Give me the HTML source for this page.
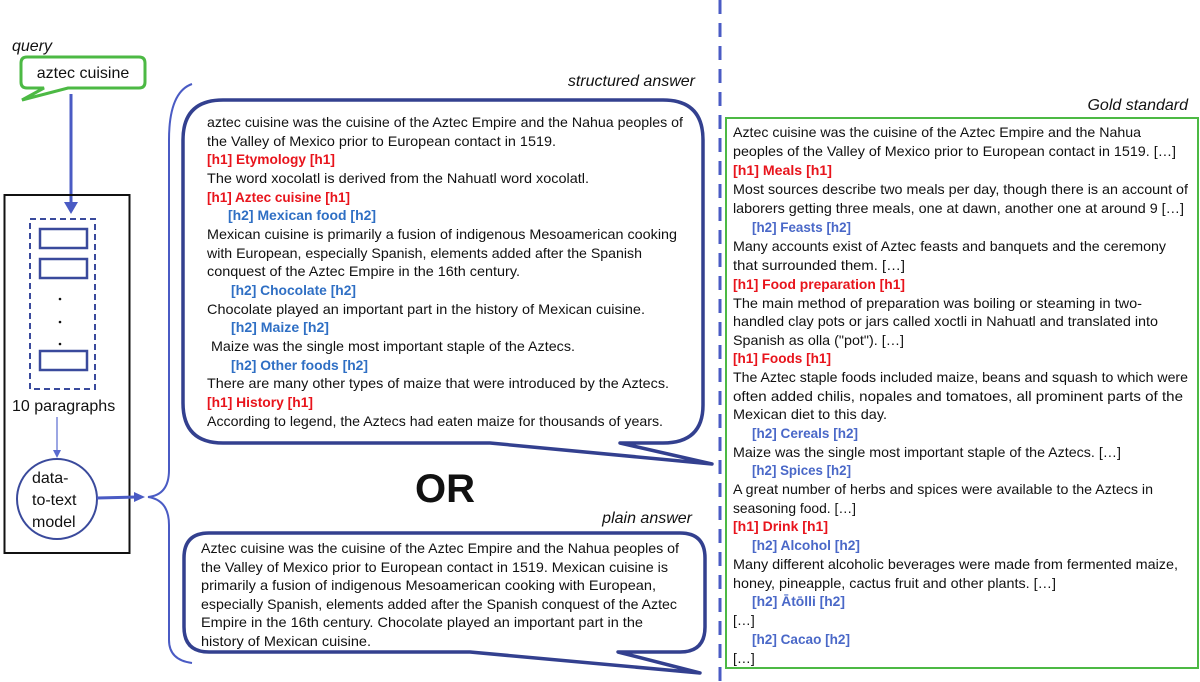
<!DOCTYPE html>
<html><head><meta charset="utf-8"><style>
html,body{margin:0;padding:0;background:#fff}
svg{display:block}
text{font-family:"Liberation Sans",sans-serif;font-size:14px;fill:#111}
.h1{fill:#e8141c;font-weight:bold}
.h2{fill:#2f6fc4;font-weight:bold}
.g2{fill:#4a68c8;font-weight:bold}
.it{font-style:italic;font-size:16px}
</style></head><body>
<svg width="1200" height="682" viewBox="0 0 1200 682" xmlns="http://www.w3.org/2000/svg">
<text x="12" y="51" class="it">query</text>
<path d="M27,57 H139 Q145,57 145,63 V82 Q145,88 139,88 H68 L22,100 L44,88 H27 Q21,88 21,82 V63 Q21,57 27,57 Z" fill="#fff" stroke="#4cb944" stroke-width="3"/>
<text x="83" y="78" text-anchor="middle" style="font-size:16px">aztec cuisine</text>
<line x1="71" y1="94" x2="71" y2="204" stroke="#4a5bc4" stroke-width="3"/>
<polygon points="64,202 78,202 71,214" fill="#4a5bc4"/>
<rect x="4.5" y="195" width="125" height="358" fill="none" stroke="#111" stroke-width="2"/>
<rect x="30" y="219" width="65" height="170" fill="none" stroke="#3a4a9c" stroke-width="2" stroke-dasharray="6,4"/>
<rect x="40" y="229" width="47" height="19" fill="none" stroke="#3a4a9c" stroke-width="2.5"/>
<rect x="40" y="259" width="47" height="19" fill="none" stroke="#3a4a9c" stroke-width="2.5"/>
<rect x="40" y="351" width="47" height="19" fill="none" stroke="#3a4a9c" stroke-width="2.5"/>
<circle cx="60" cy="299" r="1.3" fill="#111"/><circle cx="60" cy="322" r="1.3" fill="#111"/><circle cx="60" cy="344" r="1.3" fill="#111"/>
<text x="12" y="411" style="font-size:16px">10 paragraphs</text>
<line x1="57" y1="417" x2="57" y2="452" stroke="#5a6bd0" stroke-width="1.2"/>
<polygon points="53,450 61,450 57,458" fill="#5a6bd0"/>
<circle cx="57" cy="499" r="40" fill="#fff" stroke="#3a4a9c" stroke-width="2"/>
<text x="32" y="483" style="font-size:16px">data-</text>
<text x="32" y="505" style="font-size:16px">to-text</text>
<text x="32" y="527" style="font-size:16px">model</text>
<line x1="97" y1="498" x2="136" y2="497" stroke="#4a5bc4" stroke-width="3"/>
<polygon points="134,492 145,497 134,502" fill="#4a5bc4"/>
<path d="M192,84 Q169,92 169,140 V470 Q169,495 148,497 Q169,500 169,525 V640 Q169,660 192,663" fill="none" stroke="#4a5bc4" stroke-width="2"/>
<line x1="720" y1="0" x2="720" y2="682" stroke="#4a5bc4" stroke-width="3" stroke-dasharray="14,9"/>
<text x="695" y="86" class="it" text-anchor="end">structured answer</text>
<path d="M223,100 H663 Q703,100 703,140 V405 Q703,443 663,443 H620 L712,464 L490,443 H223 Q183,443 183,403 V140 Q183,100 223,100 Z" fill="#fff" stroke="#33408f" stroke-width="3.5" stroke-linejoin="round"/>
<g>
<text x="207" y="127" textLength="476" lengthAdjust="spacingAndGlyphs">aztec cuisine was the cuisine of the Aztec Empire and the Nahua peoples of</text>
<text x="207" y="146" textLength="349" lengthAdjust="spacingAndGlyphs">the Valley of Mexico prior to European contact in 1519.</text>
<text x="207" y="164" class="h1" textLength="128" lengthAdjust="spacingAndGlyphs">[h1] Etymology [h1]</text>
<text x="207" y="183" textLength="382" lengthAdjust="spacingAndGlyphs">The word xocolatl is derived from the Nahuatl word xocolatl.</text>
<text x="207" y="202" class="h1" textLength="143" lengthAdjust="spacingAndGlyphs">[h1] Aztec cuisine [h1]</text>
<text x="228" y="220" class="h2" textLength="148" lengthAdjust="spacingAndGlyphs">[h2] Mexican food [h2]</text>
<text x="207" y="239" textLength="470" lengthAdjust="spacingAndGlyphs">Mexican cuisine is primarily a fusion of indigenous Mesoamerican cooking</text>
<text x="207" y="258" textLength="435" lengthAdjust="spacingAndGlyphs">with European, especially Spanish, elements added after the Spanish</text>
<text x="207" y="276" textLength="313" lengthAdjust="spacingAndGlyphs">conquest of the Aztec Empire in the 16th century.</text>
<text x="231" y="295" class="h2" textLength="125" lengthAdjust="spacingAndGlyphs">[h2] Chocolate [h2]</text>
<text x="207" y="314" textLength="438" lengthAdjust="spacingAndGlyphs">Chocolate played an important part in the history of Mexican cuisine.</text>
<text x="231" y="332" class="h2" textLength="98" lengthAdjust="spacingAndGlyphs">[h2] Maize [h2]</text>
<text x="211" y="351" textLength="364" lengthAdjust="spacingAndGlyphs">Maize was the single most important staple of the Aztecs.</text>
<text x="231" y="370" class="h2" textLength="137" lengthAdjust="spacingAndGlyphs">[h2] Other foods [h2]</text>
<text x="207" y="388" textLength="462" lengthAdjust="spacingAndGlyphs">There are many other types of maize that were introduced by the Aztecs.</text>
<text x="207" y="407" class="h1" textLength="106" lengthAdjust="spacingAndGlyphs">[h1] History [h1]</text>
<text x="207" y="426" textLength="456" lengthAdjust="spacingAndGlyphs">According to legend, the Aztecs had eaten maize for thousands of years.</text>
</g>
<text x="445" y="502" text-anchor="middle" style="font-size:40px;font-weight:bold">OR</text>
<text x="692" y="523" class="it" text-anchor="end">plain answer</text>
<path d="M209,533 H680 Q705,533 705,558 V627 Q705,652 680,652 H618 L700,673 L470,652 H209 Q184,652 184,627 V558 Q184,533 209,533 Z" fill="#fff" stroke="#33408f" stroke-width="3.5" stroke-linejoin="round"/>
<g>
<text x="201" y="553" textLength="478" lengthAdjust="spacingAndGlyphs">Aztec cuisine was the cuisine of the Aztec Empire and the Nahua peoples of</text>
<text x="201" y="572" textLength="467" lengthAdjust="spacingAndGlyphs">the Valley of Mexico prior to European contact in 1519. Mexican cuisine is</text>
<text x="201" y="590" textLength="455" lengthAdjust="spacingAndGlyphs">primarily a fusion of indigenous Mesoamerican cooking with European,</text>
<text x="201" y="609" textLength="476" lengthAdjust="spacingAndGlyphs">especially Spanish, elements added after the Spanish conquest of the Aztec</text>
<text x="201" y="627" textLength="442" lengthAdjust="spacingAndGlyphs">Empire in the 16th century. Chocolate played an important part in the</text>
<text x="201" y="646" textLength="170" lengthAdjust="spacingAndGlyphs">history of Mexican cuisine.</text>
</g>
<text x="1188" y="110" class="it" text-anchor="end">Gold standard</text>
<rect x="726" y="118" width="472" height="550" fill="none" stroke="#4cb944" stroke-width="2"/>
<g>
<text x="733" y="137" textLength="408" lengthAdjust="spacingAndGlyphs">Aztec cuisine was the cuisine of the Aztec Empire and the Nahua</text>
<text x="733" y="156" textLength="443" lengthAdjust="spacingAndGlyphs">peoples of the Valley of Mexico prior to European contact in 1519. […]</text>
<text x="733" y="175" class="h1" textLength="99" lengthAdjust="spacingAndGlyphs">[h1] Meals [h1]</text>
<text x="733" y="194" textLength="455" lengthAdjust="spacingAndGlyphs">Most sources describe two meals per day, though there is an account of</text>
<text x="733" y="213" textLength="451" lengthAdjust="spacingAndGlyphs">laborers getting three meals, one at dawn, another one at around 9 […]</text>
<text x="752" y="232" class="g2" textLength="99" lengthAdjust="spacingAndGlyphs">[h2] Feasts [h2]</text>
<text x="733" y="251" textLength="433" lengthAdjust="spacingAndGlyphs">Many accounts exist of Aztec feasts and banquets and the ceremony</text>
<text x="733" y="270" textLength="172" lengthAdjust="spacingAndGlyphs">that surrounded them.  […]</text>
<text x="733" y="289" class="h1" textLength="172" lengthAdjust="spacingAndGlyphs">[h1] Food preparation [h1]</text>
<text x="733" y="308" textLength="409" lengthAdjust="spacingAndGlyphs">The main method of preparation was boiling or steaming in two-</text>
<text x="733" y="326" textLength="425" lengthAdjust="spacingAndGlyphs">handled clay pots or jars called xoctli in Nahuatl and translated into</text>
<text x="733" y="345" textLength="171" lengthAdjust="spacingAndGlyphs">Spanish as olla ("pot").  […]</text>
<text x="733" y="363" class="h1" textLength="98" lengthAdjust="spacingAndGlyphs">[h1] Foods [h1]</text>
<text x="733" y="382" textLength="455" lengthAdjust="spacingAndGlyphs">The Aztec staple foods included maize, beans and squash to which were</text>
<text x="733" y="401" textLength="450" lengthAdjust="spacingAndGlyphs">often added chilis, nopales and tomatoes, all prominent parts of the</text>
<text x="733" y="419" textLength="154" lengthAdjust="spacingAndGlyphs">Mexican diet to this day.</text>
<text x="752" y="438" class="g2" textLength="106" lengthAdjust="spacingAndGlyphs">[h2] Cereals [h2]</text>
<text x="733" y="457" textLength="388" lengthAdjust="spacingAndGlyphs">Maize was the single most important staple of the Aztecs. […]</text>
<text x="752" y="475" class="g2" textLength="99" lengthAdjust="spacingAndGlyphs">[h2] Spices [h2]</text>
<text x="733" y="494" textLength="420" lengthAdjust="spacingAndGlyphs">A great number of herbs and spices were available to the Aztecs in</text>
<text x="733" y="513" textLength="123" lengthAdjust="spacingAndGlyphs">seasoning food. […]</text>
<text x="733" y="531" class="h1" textLength="95" lengthAdjust="spacingAndGlyphs">[h1] Drink [h1]</text>
<text x="752" y="550" class="g2" textLength="108" lengthAdjust="spacingAndGlyphs">[h2] Alcohol [h2]</text>
<text x="733" y="569" textLength="445" lengthAdjust="spacingAndGlyphs">Many different alcoholic beverages were made from fermented maize,</text>
<text x="733" y="588" textLength="323" lengthAdjust="spacingAndGlyphs">honey, pineapple, cactus fruit and other plants. […]</text>
<text x="752" y="606" class="g2" textLength="93" lengthAdjust="spacingAndGlyphs">[h2] Ātōlli [h2]</text>
<text x="733" y="625">[…]</text>
<text x="752" y="644" class="g2" textLength="98" lengthAdjust="spacingAndGlyphs">[h2] Cacao [h2]</text>
<text x="733" y="663">[…]</text>
</g>
</svg>
</body></html>
